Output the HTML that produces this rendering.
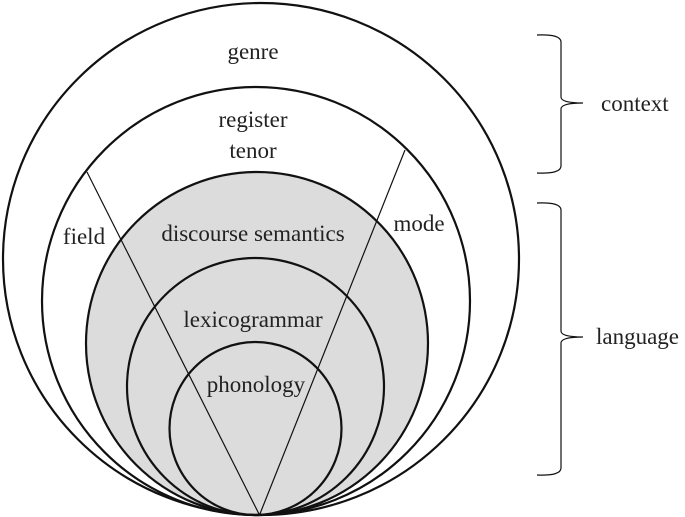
<!DOCTYPE html>
<html><head><style>body{margin:0;background:#fff}svg{display:block}</style></head><body>
<svg width="685" height="517" xmlns="http://www.w3.org/2000/svg" font-family="Liberation Serif, serif" font-size="23" fill="#222">
<g stroke="#111" stroke-width="2.2" fill="none">
<ellipse cx="261" cy="259" rx="258" ry="256"/>
<ellipse cx="256" cy="301" rx="214" ry="214"/>
<ellipse cx="257" cy="343.5" rx="171" ry="171.5" fill="#dcdcdc"/>
<ellipse cx="255.5" cy="386.5" rx="128.5" ry="128.5"/>
<ellipse cx="255.5" cy="428.5" rx="86" ry="86.5"/>
</g>
<g stroke="#111" stroke-width="1.2" fill="none">
<line x1="87" y1="172" x2="259.5" y2="515"/>
<line x1="405" y1="150" x2="259.5" y2="515"/>
<path d="M537 35 Q561 34 561 42 L561 97 Q561 103 583 103 Q561 103 561 109 L561 166 Q561 174 537 173"/>
<path d="M537 203 Q561 202 561 210 L561 331 Q561 337 583 337 Q561 337 561 343 L561 468 Q561 476 537 475"/>
</g>
<g text-anchor="middle" fill="#222" stroke="none">
<text x="253" y="59">genre</text>
<text x="253" y="127">register</text>
<text x="253" y="158">tenor</text>
<text x="84" y="244">field</text>
<text x="253" y="241">discourse semantics</text>
<text x="419" y="231">mode</text>
<text x="253" y="327">lexicogrammar</text>
<text x="256" y="392">phonology</text>
</g>
<text x="601" y="111">context</text>
<text x="596" y="344">language</text>
</svg>
</body></html>
